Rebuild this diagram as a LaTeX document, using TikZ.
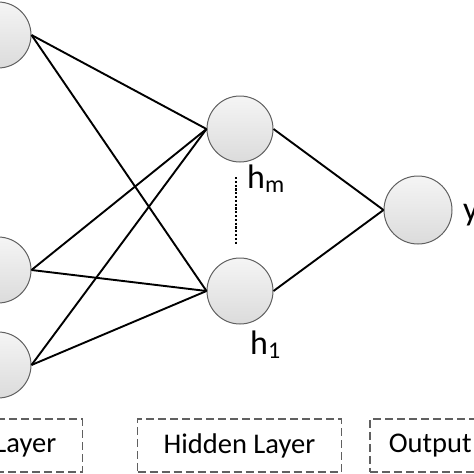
\documentclass[tikz,border=0pt]{standalone}
\usepackage{fontspec}
\setmainfont{Carlito}
\tikzset{
  neuron/.style={circle,draw=gray!75!black,line width=1pt,minimum size=66pt,inner sep=0pt,top color=gray!8,bottom color=gray!28},
  layerbox/.style={draw=gray!75!black,dash pattern=on 8pt off 4pt,line width=1.5pt,minimum height=53pt,inner xsep=26pt,font=\fontsize{28.5}{32}\selectfont},
  lab/.style={font=\fontsize{34}{36}\selectfont,inner sep=0pt},
  conn/.style={line width=1.9pt}
}
\newcommand{\hlab}[1]{h\raisebox{-0.3ex}{\fontsize{24}{24}\selectfont #1}}
\begin{document}
\begin{tikzpicture}[x=1pt,y=-1pt]
\useasboundingbox (0,0) rectangle (474,474);
\clip (0,0) rectangle (474,474);
% neurons
\node[neuron](in3) at (-2,35) {};
\node[neuron](in2) at (-2,270) {};
\node[neuron](in1) at (-2,365) {};
\node[neuron](hm) at (240,129) {};
\node[neuron](h1) at (240,291) {};
\node[neuron,minimum size=68pt](out) at (418,210) {};
% connections
\foreach \i in {in1,in2,in3}
  \foreach \h in {h1,hm}
    \draw[conn](\i.east)--(\h.west);
\foreach \h in {h1,hm}
  \draw[conn](\h.east)--(out.west);
% labels
\node[lab,anchor=base west](hmlab) at (247,188) {\hlab{m}};
\node[lab,anchor=base west](h1lab) at (250,354) {\hlab{1}};
\node[lab,anchor=base west](ylab) at (463,220) {y};
\coordinate (dtop) at (236,177);
\coordinate (dbot) at (236,245);
\draw[line width=2pt,dash pattern=on 2.2pt off 1.6pt](dtop)--(dbot);
% layer boxes
\node[layerbox,anchor=east](inbox) at (83,445.5) {Input Layer};
\node[layerbox](hidbox) at (239.5,445.5) {Hidden Layer};
\node[layerbox,anchor=west,inner xsep=19pt](outbox) at (369,445.5) {Output Layer};
\end{tikzpicture}
\end{document}
